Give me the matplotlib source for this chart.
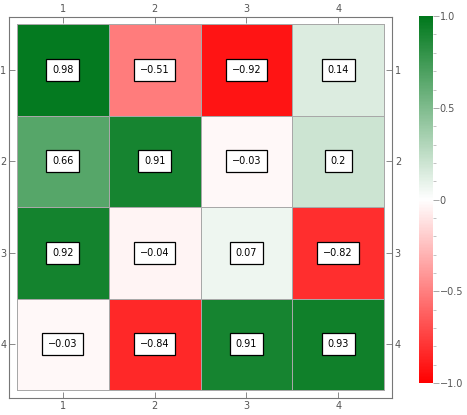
import matplotlib
matplotlib.use("Agg")
import matplotlib.pyplot as plt
import numpy as np
from matplotlib.colors import LinearSegmentedColormap, Normalize
from matplotlib.ticker import MultipleLocator

rows = [1, 2, 3, 4]
cols = [1, 2, 3, 4]
values = [
    [0.98, -0.51, -0.92, 0.14],
    [0.66, 0.91, -0.03, 0.2],
    [0.92, -0.04, 0.07, -0.82],
    [-0.03, -0.84, 0.91, 0.93],
]
labels = [
    ["0.98", "\u22120.51", "\u22120.92", "0.14"],
    ["0.66", "0.91", "\u22120.03", "0.2"],
    ["0.92", "\u22120.04", "0.07", "\u22120.82"],
    ["\u22120.03", "\u22120.84", "0.91", "0.93"],
]
cbar_ticks = [-1.0, -0.5, 0, 0.5, 1.0]
cbar_labels = ["\u22121.0", "\u22120.5", "0", "0.5", "1.0"]

cmap = LinearSegmentedColormap.from_list("rg", ["#ff0000", "#ffffff", "#00781c"])
norm = Normalize(-1, 1)

fig = plt.figure(figsize=(4.67, 4.15), dpi=100)
ax = fig.add_axes([0.0193, 0.041, 0.8201, 0.918])
Z = np.array(values)
xe = np.arange(len(cols) + 1) + 0.5
ye = np.arange(len(rows) + 1) + 0.5
ax.pcolormesh(xe, ye, Z, cmap=cmap, norm=norm, edgecolors="#a8a8a8", linewidth=0.4)
for i, r in enumerate(rows):
    for j, c in enumerate(cols):
        ax.text(c, r, labels[i][j], ha="center", va="center", fontsize=7, color="black",
                bbox=dict(boxstyle="square,pad=0.6", fc="white", ec="black", lw=0.9))
ax.set_xlim(0.413, 4.587)
ax.set_ylim(4.587, 0.423)
ax.set_xticks(cols)
ax.set_yticks(rows)
ax.tick_params(which="both", direction="in", length=4, width=0.7, colors="#888888",
               labelcolor="#555555", labelsize=7, top=True, right=True,
               labeltop=True, labelright=True, pad=2)
for s in ax.spines.values():
    s.set_color("#777777")
    s.set_linewidth(0.8)

cax = fig.add_axes([0.897, 0.0771, 0.030, 0.884])
sm = matplotlib.cm.ScalarMappable(norm=norm, cmap=cmap)
cb = fig.colorbar(sm, cax=cax)
cb.outline.set_visible(False)
cb.set_ticks(cbar_ticks)
cb.set_ticklabels(cbar_labels)
cax.yaxis.set_minor_locator(MultipleLocator(0.1))
cax.tick_params(which="major", length=4, width=0.6, colors="#999999", labelcolor="#555555", labelsize=7, pad=1)
cax.tick_params(which="minor", length=2, width=0.5, colors="#aaaaaa")

fig.savefig("out.png", dpi=100)
